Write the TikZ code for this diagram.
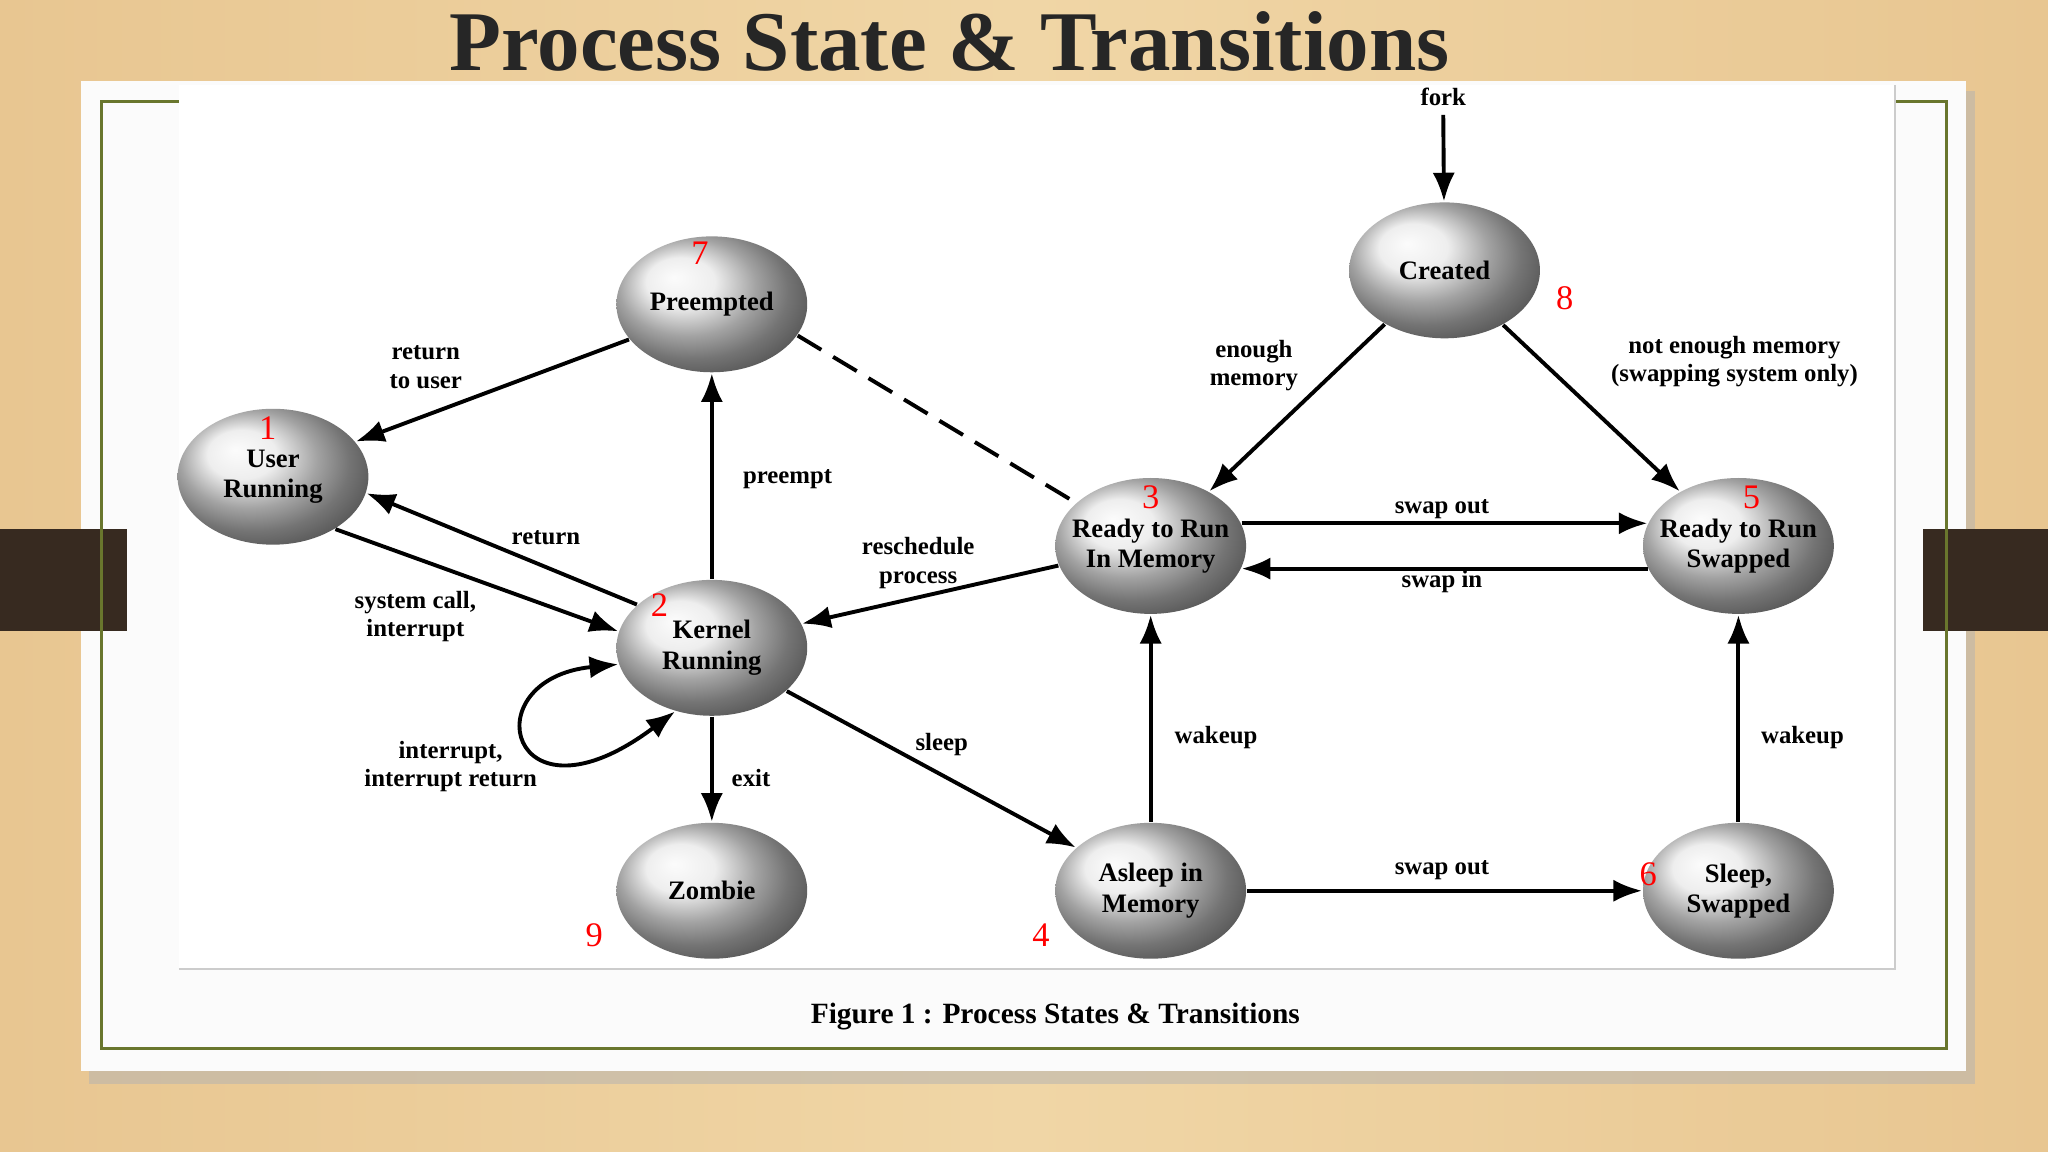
\documentclass[tikz,border=0pt]{standalone}
\usepackage{fontspec}
\setmainfont{Liberation Serif}
\usetikzlibrary{shapes.geometric,arrows.meta}
\definecolor{wood}{RGB}{232,198,145}
\definecolor{woodl}{RGB}{240,214,166}
\definecolor{bar}{RGB}{55,42,32}
\begin{document}
\begin{tikzpicture}[x=0.01cm,y=-0.01cm,
  st/.style={ellipse,minimum width=1.46cm,minimum height=1.04cm,shading=ball,ball color=gray!18,inner sep=0pt},
  tx/.style={align=center,inner sep=0pt,font=\fontsize{5.8pt}{6.6pt}\selectfont\bfseries},
  lb/.style={align=center,font=\fontsize{5.4pt}{6.2pt}\selectfont\bfseries,inner sep=0pt},
  num/.style={text=red,font=\fontsize{7.5pt}{8pt}\selectfont,inner sep=0pt},
  ar/.style={-{Latex[length=2.2mm,width=1.7mm]},line width=0.85pt}]
\useasboundingbox (0,0) rectangle (1568,882);
\fill[left color=wood, right color=wood, middle color=woodl] (0,0) rectangle (1568,882);
\fill[black!30,opacity=0.5] (68,70) rectangle (1512,830);
\fill[white!97!gray] (62,62) rectangle (1505,820);
\fill[bar] (0,405) rectangle (97,483);
\fill[bar] (1472,405) rectangle (1568,483);
\draw[olive!70!green!70!black,line width=0.6pt] (78,78) rectangle (1490,803);
\fill[white] (137,65) rectangle (1451,742);
\draw[gray!40,line width=0.4pt] (137,742) -- (1451,742) -- (1451,65);
\node[font=\fontsize{18.5pt}{20pt}\selectfont\bfseries,text=black!85] (title) at (727,32) {Process State \& Transitions};
\node (u) [st] at (209,365) {}; \node[tx] (ut) at (u) {User\\Running};
\node (p) [st] at (545,233) {}; \node[tx] (pt) at (p) {Preempted};
\node (k) [st] at (545,496) {}; \node[tx] (kt) at (k) {Kernel\\Running};
\node (z) [st] at (545,682) {}; \node[tx] (zt) at (z) {Zombie};
\node (r) [st] at (881,418) {}; \node[tx] (rt) at (r) {Ready to Run\\In Memory};
\node (a) [st] at (881,682) {}; \node[tx] (at) at (a) {Asleep in\\Memory};
\node (c) [st] at (1106,207) {}; \node[tx] (ct) at (c) {Created};
\node (s) [st] at (1331,418) {}; \node[tx] (stx) at (s) {Ready to Run\\Swapped};
\node (w) [st] at (1331,682) {}; \node[tx] (wt) at (w) {Sleep,\\Swapped};
\coordinate (f) at (1105,88);
\node[lb] (fl) at (1105,74) {fork};
\draw[ar] (f) -- (c);
\draw[ar] (p.203) -- (u.23);
\draw[ar] (k.150) -- (u.-10);
\draw[ar] (u.-40) -- (k.170);
\draw[ar] (k.north) -- (p.south);
\draw[line width=0.85pt,dash pattern=on 6pt off 3pt] (p.-20) -- (r.150);
\draw[ar] (r.192) -- (k.15);
\draw[ar] (k.south) -- (z.north);
\draw[ar] (k.-30) -- (a.150);
\draw[ar] (a.north) -- (r.south);
\draw[ar] (c.222) -- (r.43);
\draw[ar] (c.-43) -- (s.137);
\draw[ar] (r.14) -- (s.166);
\draw[ar] (s.194) -- (r.-14);
\draw[ar] (a.east) -- (w.west);
\draw[ar] (w.north) -- (s.south);
\draw[{Latex[length=2.2mm,width=1.7mm]}-{Latex[length=2.2mm,width=1.7mm]},line width=0.85pt] (k.190) .. controls (360,520) and (390,640) .. (k.240);
\node[lb] at (326,281) {return\\to user};
\node[lb] at (418,412) {return};
\node[lb] at (318,472) {system call,\\interrupt};
\node[lb] at (603,367) {preempt};
\node[lb] at (703,431) {reschedule\\process};
\node[lb] at (345,587) {interrupt,\\interrupt return};
\node[lb] at (575,596) {exit};
\node[lb] at (721,570) {sleep};
\node[lb] at (931,565) {wakeup};
\node[lb] at (1380,565) {wakeup};
\node[lb] at (960,280) {enough\\memory};
\node[lb] at (1328,277) {not enough memory\\(swapping system only)};
\node[lb] at (1104,390) {swap out};
\node[lb] at (1104,445) {swap in};
\node[lb] at (1104,666) {swap out};
\node[num] at (205,328) {1};
\node[num] at (536,194) {7};
\node[num] at (505,463) {2};
\node[num] at (881,381) {3};
\node[num] at (1341,381) {5};
\node[num] at (1198,228) {8};
\node[num] at (455,716) {9};
\node[num] at (797,716) {4};
\node[num] at (1262,669) {6};
\node[font=\fontsize{6.4pt}{7pt}\selectfont\bfseries] at (808,778) {Figure 1 : Process States \& Transitions};
\end{tikzpicture}
\end{document}
